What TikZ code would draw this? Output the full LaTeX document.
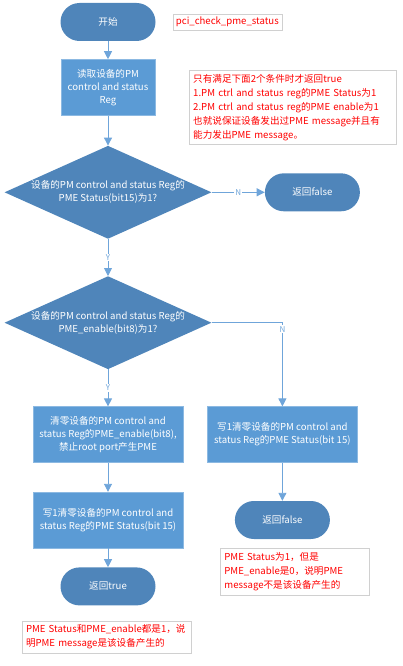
\documentclass[tikz,border=0pt]{standalone}
\usepackage{fontspec}
\setmainfont{Noto Sans CJK SC}
\usetikzlibrary{positioning, arrows.meta, shapes.geometric}
\definecolor{termblue}{HTML}{4F85BA}
\definecolor{boxblue}{HTML}{5B9BD5}
\definecolor{lineblue}{HTML}{6FA5DA}
\definecolor{noteline}{HTML}{D0D0D0}

\begin{document}
\begin{tikzpicture}[
  x=1pt, y=1pt,
  every node/.style={font=\fontsize{9.6}{13}\selectfont},
  term/.style={rectangle, rounded corners=19pt, fill=termblue, text=white, minimum width=95pt, minimum height=38pt, align=center},
  proc/.style={rectangle, draw=boxblue!70!white, fill=boxblue, text=white, align=center, minimum width=150pt, minimum height=56pt, inner sep=2pt},
  decide/.style={diamond, aspect=2.2, fill=termblue, text=white, align=center, inner sep=0pt, minimum width=207pt, minimum height=93pt},
  note/.style={rectangle, draw=noteline, fill=white, text=red, align=left, inner sep=4pt, font=\fontsize{9.6}{14}\selectfont},
  lbl/.style={fill=white, text=lineblue, inner sep=1pt, font=\fontsize{8}{9}\selectfont},
  arr/.style={-{Triangle[length=8pt, width=8pt]}, draw=lineblue, line width=0.9pt}
]
  \useasboundingbox (0,0) rectangle (402,-666);

  \node[term] (start) at (108,-22) {开始};
  \node[note, inner sep=3pt, right=17pt of start] (fname) {pci\_check\_pme\_status};
  \node[proc, below=18pt of start, minimum width=94pt] (read) {读取设备的PM\\control and status\\Reg};
  \node[note, text width=199pt, anchor=north west] (why) at (189,-70)
    {只有满足下面2个条件时才返回true\\1.PM ctrl and status reg的PME Status为1\\2.PM ctrl and status reg的PME enable为1\\也就说保证设备发出过PME message并且有\\能力发出PME message。};

  \node[decide, below=30pt of read] (chkstat) {设备的PM control and status Reg的\\PME Status(bit15)为1?};
  \node[term, right=53pt of chkstat] (false1) {返回false};
  \node[decide, below=37pt of chkstat] (chken) {设备的PM control and status Reg的\\PME\_enable(bit8)为1?};

  \node[proc, below=37pt of chken] (clren) {清零设备的PM control and\\status Reg的PME\_enable(bit8),\\禁止root port产生PME};
  \node[proc, right=24pt of clren] (clrstat1) {写1清零设备的PM control and\\status Reg的PME Status(bit 15)};
  \node[proc, below=29pt of clren] (clrstat2) {写1清零设备的PM control and\\status Reg的PME Status(bit 15)};
  \node[term, below=19pt of clrstat2] (true) {返回true};
  \node[term, below=38pt of clrstat1] (false2) {返回false};

  \node[note, text width=141pt, below=9pt of false2, xshift=12.5pt] (notmine)
    {PME Status为1，但是\\PME\_enable是0，说明PME\\message不是该设备产生的};
  \node[note, text width=161pt, below=15pt of true, xshift=-1.5pt] (mine)
    {PME Status和PME\_enable都是1，说\\明PME message是该设备产生的};

  \draw[arr] (start) -- (read);
  \draw[arr] (read) -- (chkstat);
  \draw[arr] (chkstat.east) -- node[lbl] {N} (false1.west);
  \draw[arr] (chkstat.south) -- node[lbl] {Y} (chken.north);
  \draw[arr] (chken.east) -| node[lbl, pos=0.54] {N} (clrstat1.north);
  \draw[arr] (chken.south) -- node[lbl] {Y} (clren.north);
  \draw[arr] (clren) -- (clrstat2);
  \draw[arr] (clrstat2) -- (true);
  \draw[arr] (clrstat1) -- (false2);
\end{tikzpicture}
\end{document}
